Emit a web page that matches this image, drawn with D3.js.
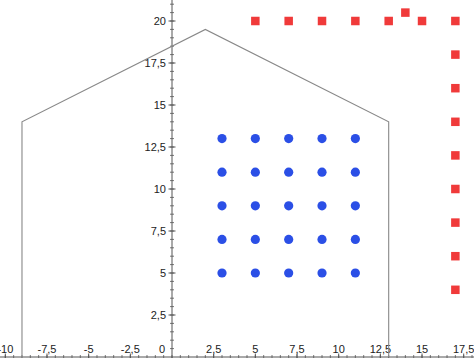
<!DOCTYPE html>
<html><head><meta charset="utf-8">
<script src="https://cdn.jsdelivr.net/npm/d3@7"></script>
<style>html,body{margin:0;padding:0;background:#fff;overflow:hidden}</style>
</head><body>
<svg id="c" width="474" height="358"></svg>
<script>
// Data
const housePoly = [[-9,0],[-9,14],[2,19.5],[13,14],[13,0]];
const blueX = [3,5,7,9,11];
const blueY = [13,11,9,7,5];
const redTopX = [5,7,9,11,13,15,17];
const redTopY = 20;
const redExtra = [[14,20.5]];
const redRightY = [18,16,14,12,10,8,6,4];
const redRightX = 17;
const xTicks = [-10,-7.5,-5,-2.5,2.5,5,7.5,10,12.5,15,17.5];
const yTicks = [2.5,5,7.5,10,12.5,15,17.5,20];

const W=474,H=358;
const svg=d3.select("#c");
const x=d3.scaleLinear().domain([0,17.5]).range([172,463.7]);
const y=d3.scaleLinear().domain([0,20]).range([357,21]);
const fmt=v=>String(v).replace(".",",");
const axisCol="#555";

// axes
const minorX=d3.range(-10.5,18.5,0.5);
const minorY=d3.range(0.5,21.5,0.5);
svg.append("line").attr("x1",0).attr("x2",W).attr("y1",y(0)).attr("y2",y(0)).attr("stroke",axisCol).attr("stroke-width",1);
svg.append("line").attr("x1",x(0)).attr("x2",x(0)).attr("y1",0).attr("y2",H).attr("stroke",axisCol).attr("stroke-width",1);
svg.selectAll(".mx").data(minorX).join("line").attr("x1",d=>x(d)).attr("x2",d=>x(d))
  .attr("y1",y(0)-2).attr("y2",y(0)+2).attr("stroke",axisCol).attr("stroke-width",0.8);
svg.selectAll(".my").data(minorY).join("line").attr("y1",d=>y(d)).attr("y2",d=>y(d))
  .attr("x1",x(0)-2).attr("x2",x(0)+2).attr("stroke",axisCol).attr("stroke-width",0.8);
svg.selectAll(".MX").data(xTicks).join("line").attr("x1",d=>x(d)).attr("x2",d=>x(d))
  .attr("y1",y(0)-3.5).attr("y2",y(0)+3).attr("stroke",axisCol).attr("stroke-width",1);
svg.selectAll(".MY").data(yTicks).join("line").attr("y1",d=>y(d)).attr("y2",d=>y(d))
  .attr("x1",x(0)-3.5).attr("x2",x(0)+3.5).attr("stroke",axisCol).attr("stroke-width",1);

const font="'Liberation Sans', Arial, Helvetica, sans-serif";
svg.selectAll(".xl").data(xTicks).join("text").attr("x",d=>x(d)).attr("y",y(0)-4)
  .attr("text-anchor","middle").attr("font-family",font).attr("font-size",11).attr("fill","#222").text(fmt);
svg.selectAll(".yl").data(yTicks).join("text").attr("x",x(0)-6).attr("y",d=>y(d)+4)
  .attr("text-anchor","end").attr("font-family",font).attr("font-size",11).attr("fill","#222").text(fmt);
svg.append("text").attr("x",x(0)-7).attr("y",y(0)-4).attr("text-anchor","end")
  .attr("font-family",font).attr("font-size",11).attr("fill","#222").text("0");

// house
svg.append("path").attr("d",d3.line().x(d=>x(d[0])).y(d=>y(d[1]))(housePoly))
  .attr("fill","none").attr("stroke","#888").attr("stroke-width",1.1);

// blue dots
const blue=[];
blueY.forEach(yy=>blueX.forEach(xx=>blue.push([xx,yy])));
svg.selectAll(".b").data(blue).join("circle").attr("cx",d=>x(d[0])).attr("cy",d=>y(d[1]))
  .attr("r",4.6).attr("fill","#2b4fe6");

// red squares
const red=redTopX.map(v=>[v,redTopY]).concat(redExtra).concat(redRightY.map(v=>[redRightX,v]));
const s=8.5;
svg.selectAll(".r").data(red).join("rect").attr("x",d=>x(d[0])-s/2).attr("y",d=>y(d[1])-s/2)
  .attr("width",s).attr("height",s).attr("fill","#f03a3a");
</script>
</body></html>
